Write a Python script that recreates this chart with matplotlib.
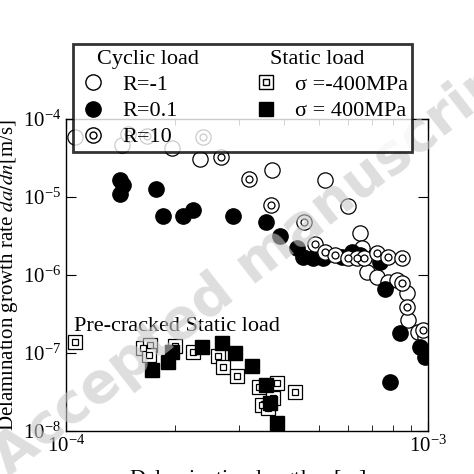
import matplotlib
matplotlib.use("Agg")
import matplotlib.pyplot as plt
from matplotlib.lines import Line2D
import numpy as np

plt.rcParams["font.family"] = ["Liberation Serif", "DejaVu Serif"]
plt.rcParams["mathtext.fontset"] = "stix"

# values stored as log10(a [m]), log10(da/dn [m/s])
r_m1_x = [-3.975, -3.846, -3.708, -3.630, -3.432, -3.285, -3.220, -3.188, -3.183, -3.169,
          -3.142, -3.110, -3.087, -3.059, -3.054, -3.027, -3.008]
r_m1_y = [-4.235, -4.333, -4.376, -4.517, -4.654, -4.782, -5.115, -5.466, -5.658, -5.958,
          -6.021, -6.085, -6.064, -6.235, -6.577, -6.727, -6.791]
r_01_x = [-3.851, -3.842, -3.851, -3.751, -3.731, -3.676, -3.648, -3.540, -3.448, -3.409,
          -3.363, -3.344, -3.317, -3.289, -3.238, -3.211, -3.188, -3.133, -3.119, -3.077,
          -3.105, -3.022, -3.008]
r_01_y = [-4.782, -4.846, -4.962, -4.902, -5.244, -5.244, -5.167, -5.244, -5.316, -5.500,
          -5.658, -5.765, -5.786, -5.786, -5.765, -5.701, -5.744, -5.830, -6.184, -6.748,
          -7.368, -6.919, -7.047]
r_10_x = [-3.828, -3.777, -3.621, -3.573, -3.494, -3.435, -3.342, -3.312, -3.285, -3.257,
          -3.220, -3.197, -3.177, -3.142, -3.110, -3.073, -3.073, -3.059, -3.013]
r_10_y = [-4.192, -4.218, -4.227, -4.491, -4.773, -5.103, -5.325, -5.603, -5.709, -5.744,
          -5.786, -5.786, -5.786, -5.714, -5.765, -5.786, -6.099, -6.406, -6.705]
sneg_x = [-3.975, -3.786, -3.768, -3.770, -3.699, -3.648, -3.579, -3.565, -3.527, -3.466,
          -3.418, -3.367, -3.427, -3.459, -3.441]
sneg_y = [-6.855, -6.940, -6.897, -7.026, -6.910, -6.983, -7.038, -7.175, -7.295, -7.432,
          -7.381, -7.496, -7.581, -7.667, -7.709]
spos_x = [-3.763, -3.717, -3.708, -3.625, -3.570, -3.533, -3.487, -3.448, -3.436, -3.416]
spos_y = [-7.218, -7.111, -6.983, -6.927, -6.868, -7.004, -7.167, -7.410, -7.637, -7.894]

p = lambda v: 10 ** np.array(v)

fig = plt.figure(figsize=(4.74, 4.74), dpi=100)
ax = fig.add_axes([66 / 474, 1 - 431 / 474, 362 / 474, 312 / 474])
ms = 11
ax.plot(p(r_m1_x), p(r_m1_y), "o", ms=ms, mfc="white", mec="black", mew=0.9, ls="none")
ax.plot(p(r_01_x), p(r_01_y), "o", ms=ms, mfc="black", mec="black", ls="none")
ax.plot(p(r_10_x), p(r_10_y), "o", ms=ms, mfc="white", mec="black", mew=0.9, ls="none")
ax.plot(p(r_10_x), p(r_10_y), "o", ms=5, mfc="white", mec="black", mew=0.9, ls="none")
ax.plot(p(sneg_x), p(sneg_y), "s", ms=10, mfc="white", mec="black", mew=0.9, ls="none")
ax.plot(p(sneg_x), p(sneg_y), "s", ms=4.5, mfc="white", mec="black", mew=0.9, ls="none")
ax.plot(p(spos_x), p(spos_y), "s", ms=10, mfc="black", mec="black", ls="none")

ax.set_xscale("log")
ax.set_yscale("log")
ax.set_xlim(1e-4, 1e-3)
ax.set_ylim(1e-8, 1e-4)
ax.tick_params(which="both", direction="in", top=True, right=True, labelsize=15)
ax.tick_params(which="major", length=7)
ax.tick_params(which="minor", length=4)
ax.xaxis.set_minor_formatter(matplotlib.ticker.NullFormatter())
ax.yaxis.set_minor_locator(matplotlib.ticker.NullLocator())
for s in ax.spines.values():
    s.set_linewidth(1.0)
ax.set_xlabel(r"Delamination length $\boldsymbol{a}$ [m]", fontsize=16, labelpad=8)
ax.set_ylabel(r"Delamination growth rate $da/dn$[m/s]", fontsize=15, labelpad=2)
ax.text(1.05e-4, 1.9e-7, "Pre-cracked Static load", fontsize=16)

# legend
blank = Line2D([], [], ls="none")
hm1 = Line2D([], [], marker="o", ms=ms, mfc="white", mec="black", ls="none")
h01 = Line2D([], [], marker="o", ms=ms, mfc="black", mec="black", ls="none")
h10o = Line2D([], [], marker="o", ms=ms, mfc="white", mec="black", ls="none")
h10i = Line2D([], [], marker="o", ms=5, mfc="white", mec="black", ls="none")
hsno = Line2D([], [], marker="s", ms=10, mfc="white", mec="black", ls="none")
hsni = Line2D([], [], marker="s", ms=4.5, mfc="white", mec="black", ls="none")
hsp = Line2D([], [], marker="s", ms=10, mfc="black", mec="black", ls="none")
handles = [blank, hm1, h01, (h10o, h10i), blank, (hsno, hsni), hsp, blank]
labels = ["Cyclic load", "R=-1", "R=0.1", "R=10", "Static load",
          "σ =-400MPa", "σ = 400MPa", ""]
leg = fig.legend(handles, labels, ncol=2, loc="upper left",
                 bbox_to_anchor=(62 / 474, 1 - 33 / 474), fontsize=16,
                 frameon=True, fancybox=False, edgecolor="black",
                 handletextpad=0.6, columnspacing=1.2, labelspacing=0.25,
                 borderpad=0.2, handlelength=1.4)
leg.get_frame().set_linewidth(2.0)
for t in (leg.get_texts()[0], leg.get_texts()[4]):
    t.set_x(-25)

fig.text(0.55, 0.45, "Accepted manuscript", fontsize=40, color="#c8c8c8", alpha=0.6,
         rotation=38, ha="center", va="center", fontweight="bold", family="DejaVu Sans")

fig.savefig("out.png", dpi=100)
